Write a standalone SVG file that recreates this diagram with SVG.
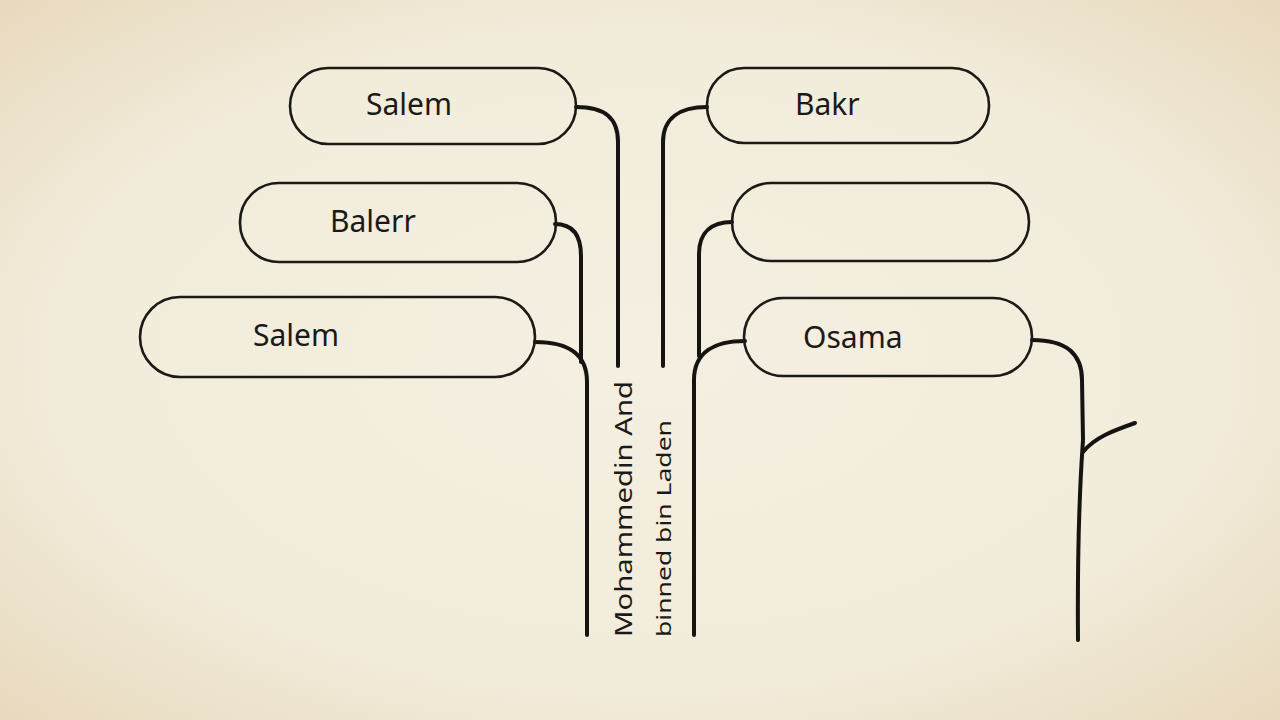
<svg xmlns="http://www.w3.org/2000/svg" width="1280" height="720" viewBox="0 0 1280 720">
<defs>
<radialGradient id="bg" cx="0.5" cy="0.5" r="0.75">
<stop offset="0" stop-color="#f4efe1"/>
<stop offset="0.6" stop-color="#f2ecdb"/>
<stop offset="1" stop-color="#e6d6b8"/>
</radialGradient>
<style>
.node{fill:none;stroke:#1c1a17;stroke-width:2.6}
.lbl{font-family:"Noto Sans","Open Sans",sans-serif;font-size:30px;fill:#1c1a17}
.conn path{fill:none;stroke:#161411;stroke-width:4;stroke-linecap:round}
.vt{font-family:"Noto Sans","Open Sans",sans-serif;fill:#1c1a17}
</style>
</defs>
<rect width="1280" height="720" fill="url(#bg)"/>
<g class="conn" id="connectors">
<path d="M576,107 C605,107 618,118 618,142 V366"/>
<path d="M707,107 C680,107 663,118 663,142 V366"/>
<path d="M555,224 C572,224 581,234 581,256 V362"/>
<path d="M535,342 C566,342 587,352 587,382 V635"/>
<path d="M732,222 C712,222 699,232 699,254 V356"/>
<path d="M745,341 C715,341 694,352 694,380 V635"/>
<path d="M1032,340 C1068,340 1082,355 1082,380 L1083,440 C1081,470 1077,520 1078,640"/>
<path d="M1083,452 C1095,437 1115,430 1135,423"/>
</g>
<g id="n1"><rect class="node" x="290" y="68" width="286" height="76" rx="38"/><text class="lbl" x="366" y="115">Salem</text></g>
<g id="n2"><rect class="node" x="240" y="183" width="316" height="79" rx="39"/><text class="lbl" x="330" y="232">Balerr</text></g>
<g id="n3"><rect class="node" x="140" y="297" width="395" height="80" rx="40"/><text class="lbl" x="253" y="346">Salem</text></g>
<g id="n4"><rect class="node" x="707" y="68" width="282" height="75" rx="37"/><text class="lbl" x="795" y="115">Bakr</text></g>
<g id="n5"><rect class="node" x="732" y="183" width="297" height="78" rx="39"/></g>
<g id="n6"><rect class="node" x="744" y="298" width="288" height="78" rx="39"/><text class="lbl" x="803" y="348">Osama</text></g>
<g id="vlabels">
<text class="vt" font-size="24" transform="translate(632,637) rotate(-90)" textLength="256" lengthAdjust="spacingAndGlyphs">Mohammedin And</text>
<text class="vt" font-size="20" transform="translate(671,637) rotate(-90)" textLength="217" lengthAdjust="spacingAndGlyphs">binned bin Laden</text>
</g>
</svg>
